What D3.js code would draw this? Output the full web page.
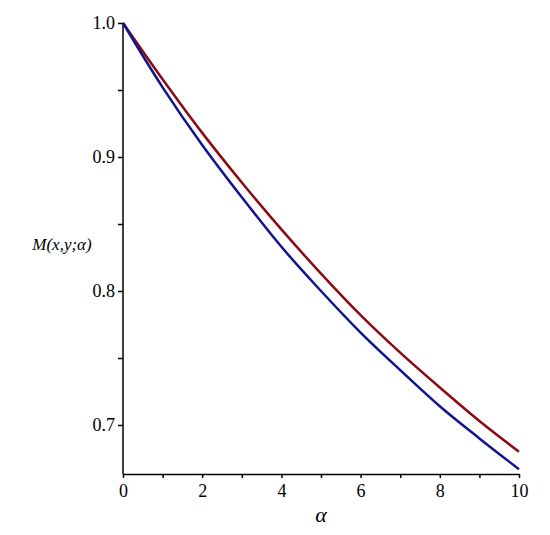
<!DOCTYPE html><html><head><script src="https://cdn.jsdelivr.net/npm/d3@7"></script>
<style>body{margin:0;background:#fff}</style></head><body><svg id="c" width="550" height="535"></svg>
<script>
const alphas=[0,1,2,3,4,5,6,7,8,9,10];
const redVals=[1,0.958,0.918,0.881,0.846,0.813,0.782,0.754,0.728,0.703,0.680];
const blueVals=[1,0.952,0.909,0.870,0.833,0.800,0.769,0.741,0.714,0.690,0.667];
const xTicks=[0,2,4,6,8,10];
const yTicks=[0.7,0.8,0.9,1.0];
const svg=d3.select("#c");
const x=d3.scaleLinear().domain([0,10]).range([123,519]);
const y=d3.scaleLinear().domain([0.7,1.0]).range([425,23]);
const yBottom=y.invert(474);
const font="'Liberation Serif','Times New Roman',serif";
const xa=svg.append("g").attr("transform","translate(0,474)")
 .call(d3.axisBottom(x).tickValues(d3.range(0,11,1)).tickSize(4).tickSizeOuter(0).tickFormat(d=>xTicks.includes(d)?d:""));
const ya=svg.append("g").attr("transform","translate(123,0)")
 .call(d3.axisLeft(y).tickValues([0.7,0.75,0.8,0.85,0.9,0.95,1.0]).tickSize(5).tickSizeOuter(0).tickFormat(d=>yTicks.some(t=>Math.abs(t-d)<1e-9)?d.toFixed(1):""));
ya.select(".domain").attr("d",`M0,${y(1)}V474`);
[xa,ya].forEach(a=>{a.selectAll("path,line").attr("stroke","#000").attr("stroke-width",1.5);
 a.selectAll("text").attr("font-family",font).attr("font-size",18).attr("fill","#000");});
xa.selectAll("text").attr("dy","0.9em");
const line=d3.line().x((d,i)=>x(alphas[i])).y(d=>y(d)).curve(d3.curveCatmullRom);
svg.append("path").attr("d",line(redVals)).attr("fill","none").attr("stroke","#8b0a12").attr("stroke-width",2.5);
svg.append("path").attr("d",line(blueVals)).attr("fill","none").attr("stroke","#101490").attr("stroke-width",2.5);
svg.append("text").attr("x",321).attr("y",522).attr("text-anchor","middle").attr("font-family",font).attr("font-style","italic").attr("font-size",22).text("α");
svg.append("text").attr("x",62).attr("y",250).attr("text-anchor","middle").attr("font-family",font).attr("font-style","italic").attr("font-size",17).text("M(x,y;α)");
</script></body></html>
